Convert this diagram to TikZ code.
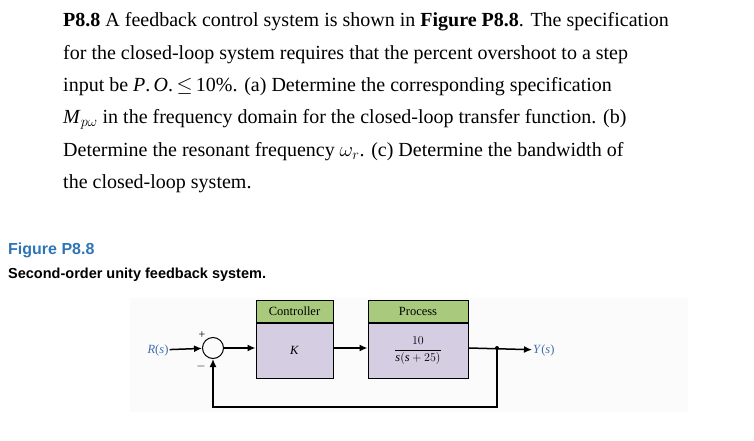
\documentclass[tikz,border=0pt]{standalone}
\usepackage{amsmath}
\usepackage{fontspec}
\setmainfont{Liberation Serif}
\newfontfamily\headfont{Liberation Sans}
\usetikzlibrary{arrows.meta,positioning}
\definecolor{figblue}{HTML}{2E75B6}
\definecolor{hdrgreen}{HTML}{A9C97D}
\definecolor{bodylilac}{HTML}{D5CDE2}
\definecolor{sigblue}{HTML}{3F6FB0}
\tikzset{
  txt/.style={anchor=west,inner sep=0pt,font=\fontsize{20}{20}\selectfont},
  hdr/.style={draw,line width=1pt,fill=hdrgreen,minimum height=22pt,inner sep=0pt,font=\fontsize{12.5}{12.5}\selectfont},
  blk/.style={draw,line width=1pt,fill=bodylilac,minimum height=55pt,inner sep=0pt,font=\fontsize{12.5}{12.5}\selectfont},
  sig/.style={font=\fontsize{12.5}{12.5}\selectfont,text=sigblue,inner sep=1pt},
  wire/.style={line width=1.5pt,-{Latex[length=8pt,width=7pt]}},
}
\begin{document}
\begin{tikzpicture}[x=1pt,y=-1pt]
\useasboundingbox (0,0) rectangle (754,441);

%Text
\node[txt] (l1) at (63,22) {\textbf{P8.8} A feedback control system is shown in \textbf{Figure P8.8}. The specification};
\node[txt] (l2) at (63,55) {for the closed-loop system requires that the percent overshoot to a step};
\node[txt] (l3) at (63,87) {input be \textit{P}.\,\textit{O}.\,$\le$\,10\%. (a) Determine the corresponding specification};
\node[txt] (l4) at (63,119) {\textit{M}$_{p\omega}$ in the frequency domain for the closed-loop transfer function. (b)};
\node[txt] (l5) at (63,152) {Determine the resonant frequency $\omega_r$. (c) Determine the bandwidth of};
\node[txt] (l6) at (63,184) {the closed-loop system.};
\node[anchor=west,inner sep=0pt,text=figblue,font=\headfont\bfseries\fontsize{16}{16}\selectfont] (fig) at (8,250) {Figure P8.8};
\node[anchor=west,inner sep=0pt,font=\headfont\bfseries\fontsize{14.5}{14.5}\selectfont] (cap) at (8,275) {Second-order unity feedback system.};

%Diagramm
\fill[gray!3] (130,298) rectangle (688,412);
\node[circle,draw,line width=1pt,minimum size=21pt,inner sep=0pt] (sum) at (213,348) {};
\node[blk,minimum width=77pt] (ctrl) at (294.5,350.5) {\textit{K}};
\node[hdr,minimum width=77pt,anchor=south] (ctrlh) at (ctrl.north) {Controller};
\node[blk,minimum width=100pt] (proc) at (418,350.5) {$\dfrac{10}{\textit{s}(\textit{s}+25)}$};
\node[hdr,minimum width=100pt,anchor=south] (proch) at (proc.north) {Process};
\node[sig] (R) at (158,350) {\textit{R}(\textit{s})};
\node[sig,anchor=west] (Y) at (532,350) {\textit{Y}(\textit{s})};
\coordinate (br) at (497,348);
\coordinate (fb) at (497,407);
\coordinate (fs) at (213,407);
\node[font=\fontsize{12}{12}\selectfont,inner sep=0pt] (plus) at (202,335) {+};
\node[font=\fontsize{12}{12}\selectfont,inner sep=0pt] (minus) at (201,366) {$-$};

\draw[wire] (R) -- (sum);
\draw[wire] (sum) -- (ctrl.west |- sum);
\draw[wire] (ctrl.east |- sum) -- (proc.west |- sum);
\draw[wire] (proc.east |- sum) -- (Y);
\fill (br) circle (2pt);
\draw[wire] (br) -- (fb) -- (fs) -- (sum);

\end{tikzpicture}
\end{document}
